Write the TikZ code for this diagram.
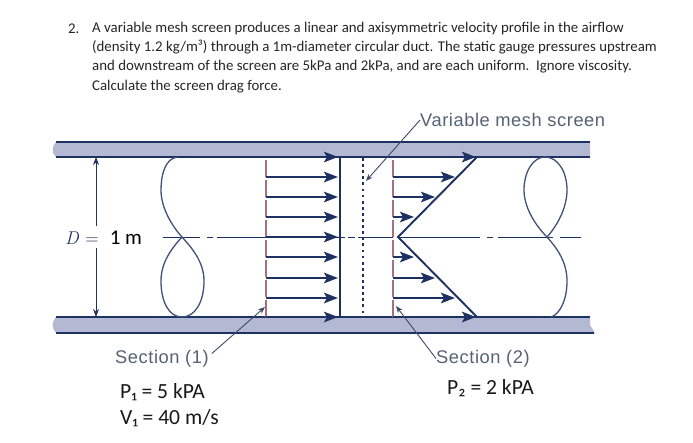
\documentclass[tikz,border=0pt]{standalone}
\usepackage{fontspec}
\setmainfont{Carlito}
\newfontfamily\labelfont[LetterSpace=3]{Liberation Sans}
\usetikzlibrary{arrows.meta}
\definecolor{pipefill}{HTML}{B4B9D3}
\definecolor{navy}{HTML}{1D3163}
\definecolor{maroon}{HTML}{A8707F}
\definecolor{labelgrey}{HTML}{566275}
\definecolor{leader}{HTML}{3D4A66}
\tikzset{
  x=1pt,y=-1pt,
  body/.style={anchor=west,inner sep=0pt,font=\fontsize{14.85}{16}\selectfont,text=black!85},
  given/.style={anchor=west,inner sep=0pt,font=\fontsize{21.6}{24}\selectfont,text=black!90},
  figlabel/.style={anchor=west,inner sep=0pt,font=\labelfont\fontsize{18.3}{20}\selectfont,text=labelgrey},
  wall/.style={draw=navy,line width=2pt},
  pipe/.style={fill=pipefill,draw=none},
  flow/.style={draw=navy,line width=2.2pt,-{Stealth[length=14pt,width=10.5pt,inset=3pt]}},
  sectionline/.style={draw=maroon,line width=1.3pt,dash pattern=on 17pt off 3pt},
  curveline/.style={draw=navy!85,line width=1.3pt},
  centre/.style={draw=navy,line width=0.9pt},
  leaderline/.style={draw=leader,line width=0.9pt,-{Stealth[length=7pt,width=5.5pt]}},
  dimline/.style={draw=navy,line width=0.9pt,-{Stealth[length=8pt,width=6pt]}},
}
\begin{document}
\begin{tikzpicture}
\useasboundingbox (0,0) rectangle (693,442);
\fill[white] (0,0) rectangle (693,442);
% text
\node[body] (num) at (68,28.5) {2.};
\node[body] (l1) at (92,28.5) {A variable mesh screen produces a linear and axisymmetric velocity profile in the airflow};
\node[body] (l2) at (92,47.5) {(density 1.2 kg/m³) through a 1m-diameter circular duct. The static gauge pressures upstream};
\node[body] (l3) at (92,66.5) {and downstream of the screen are 5kPa and 2kPa, and are each uniform.\ \ Ignore viscosity.};
\node[body] (l4) at (92,86.5) {Calculate the screen drag force.};
% pipes
\path[pipe] (56,142) .. controls (52,146) and (51,153) .. (56,157) -- (590,157) -- (590,142) -- cycle;
\path[pipe] (56,317) .. controls (52,321) and (51,328) .. (56,333) -- (595,333) -- (590,325) -- (590,317) -- cycle;
\draw[wall] (56,142) -- (590,142);
\draw[wall] (56,157) -- (590,157);
\draw[wall] (56,317) -- (590,317);
\draw[wall] (56,333) -- (594,333);
% centre line
\draw[centre] (163,237) -- (200,237) (207,237) -- (213,237) (217,237) -- (345,237) (348,237) -- (355,237) (358,237) -- (393,237) (398,237) -- (480,237) (487,237) -- (493,237) (498,237) -- (553,237) (560,237) -- (581,237);
% section lines
\draw[sectionline] (266,160) -- (266,317);
\draw[sectionline] (393,160) -- (393,317);
% uniform profile
\foreach \yy in {157,177,197,217,237,257,278,298,317}
  \draw[flow] (266,\yy) -- (338,\yy);
\draw[navy,line width=1.6pt] (340,157) -- (340,317);
% screen
\draw[navy,line width=2.8pt,dash pattern=on 2.8pt off 3.3pt] (363,158) -- (363,314);
% linear profile
\coordinate (apex) at (398,237);
\coordinate (ptop) at (477,157);
\coordinate (pbot) at (477,317);
\draw[navy,line width=1.9pt] (ptop) -- (apex) -- (pbot);
\foreach \yy/\tip in {157/476,177/455,197/435,217/414,257/414,278/435,298/455,317/476}
  \draw[flow] (393,\yy) -- (\tip,\yy);
% velocity loops
\draw[curveline] (177,157) .. controls (165,159) and (161,175) .. (161,190)
  .. controls (161,208) and (172,226) .. (182,237)
  .. controls (192,248) and (204,262) .. (204,281)
  .. controls (204,302) and (195,317) .. (182,317)
  .. controls (169,317) and (161,302) .. (161,281)
  .. controls (161,262) and (172,248) .. (182,237);
\draw[curveline] (547,237) .. controls (536,226) and (524,208) .. (524,190)
  .. controls (524,172) and (533,157) .. (545,157)
  .. controls (558,157) and (567,172) .. (567,190)
  .. controls (567,208) and (557,226) .. (547,237)
  .. controls (557,248) and (567,262) .. (567,281)
  .. controls (567,300) and (560,314) .. (551,317);
% dimension
\node[anchor=west,inner sep=0pt,font=\fontsize{18.5}{20}\selectfont,text=navy] (dim) at (65,238) {\fontspec{Latin Modern Roman}\itshape D \upshape =\ \ {\fontspec{Carlito}\fontsize{21}{22}\selectfont\color{black}1 m}};
\coordinate (dtop) at (96,157);
\coordinate (dbot) at (96,317);
\draw[dimline] (96,226) -- (dtop);
\draw[dimline] (96,248) -- (dbot);
% labels
\node[figlabel] (vms) at (420,120) {Variable mesh screen};
\coordinate (vmstip) at (366,181);
\draw[leaderline] (vms.west) -- (vmstip);
\node[figlabel] (sec1) at (115,358.5) {Section (1)};
\coordinate (sec1tip) at (265,307);
\draw[leaderline] (sec1.east) ++(3,-5) -- (sec1tip);
\node[figlabel] (sec2) at (436,358.5) {Section (2)};
\coordinate (sec2tip) at (396,306);
\draw[leaderline] (sec2.west) -- (sec2tip);
\node[given] (p1) at (120,392) {P₁ = 5 kPA};
\node[given] (v1) at (120,418) {V₁ = 40 m/s};
\node[given] (p2) at (447,388) {P₂ = 2 kPA};
\end{tikzpicture}
\end{document}
